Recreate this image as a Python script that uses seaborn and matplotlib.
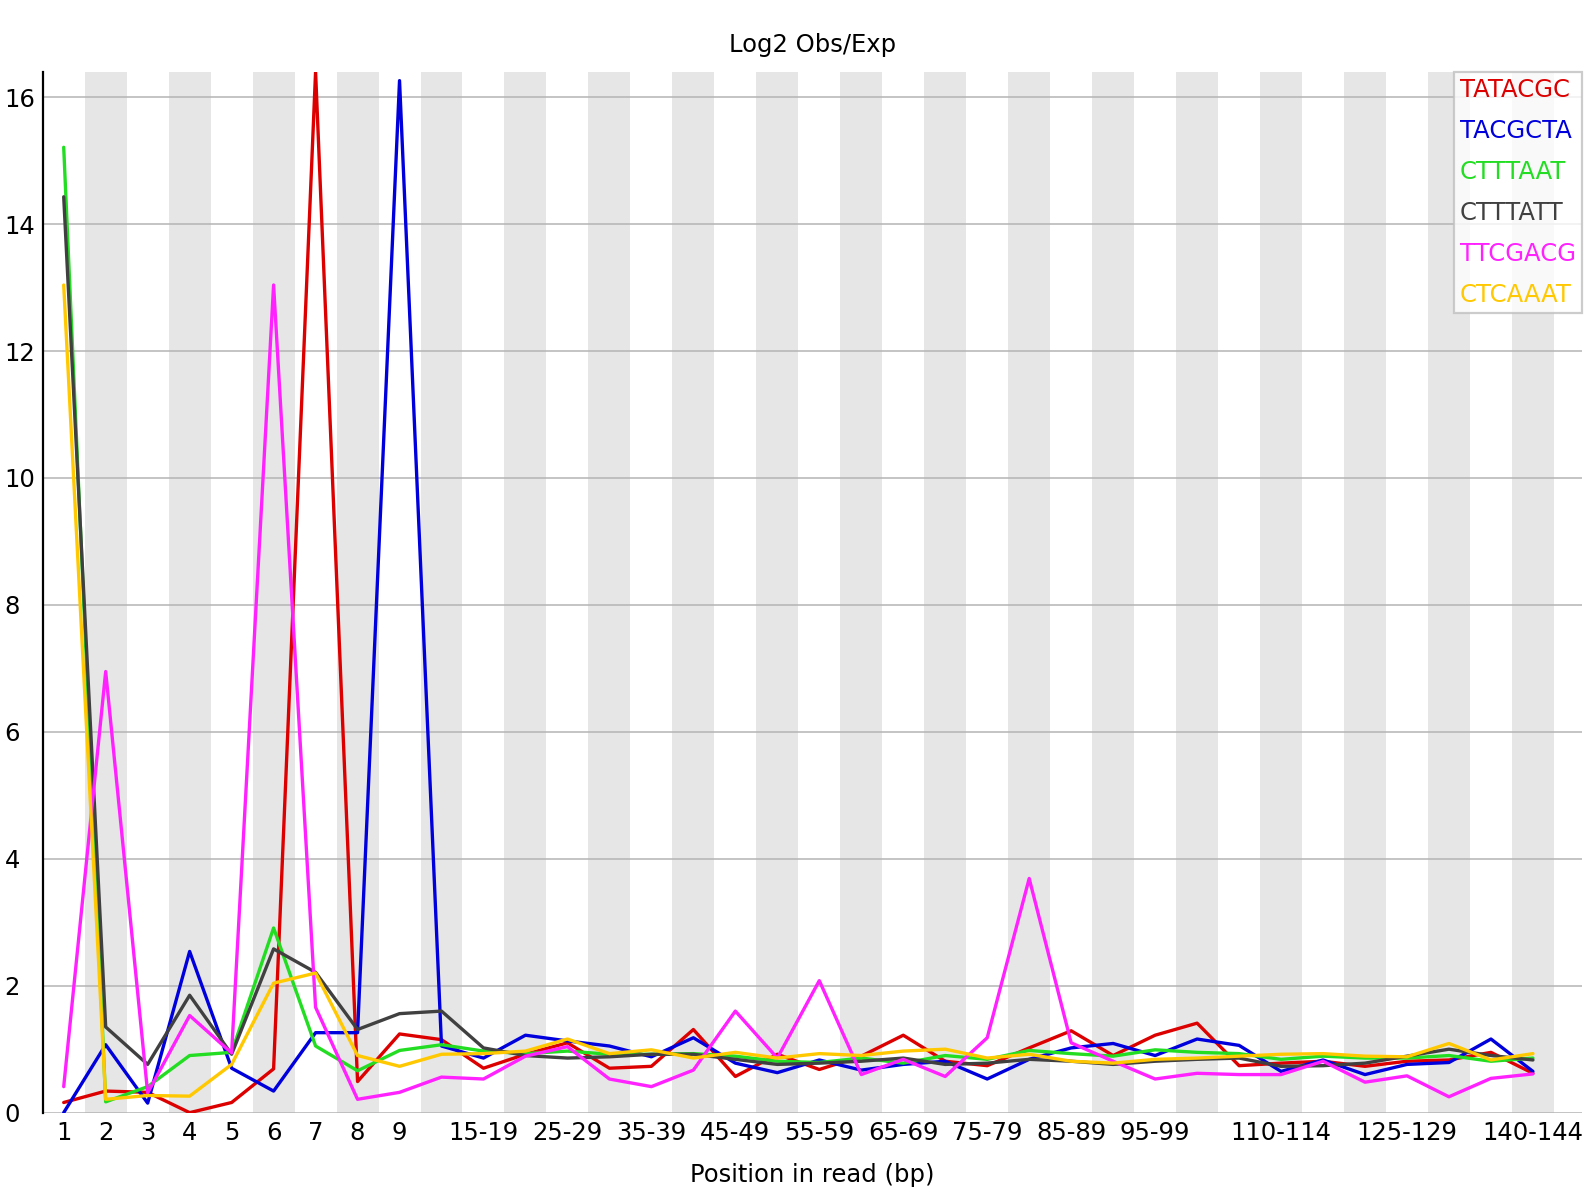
import pandas as pd
import matplotlib
matplotlib.use("Agg")
import matplotlib.pyplot as plt
import seaborn as sns

# Position groups (x categories)
positions = ["1", "2", "3", "4", "5", "6", "7", "8", "9",
             "10-14", "15-19", "20-24", "25-29", "30-34", "35-39", "40-44",
             "45-49", "50-54", "55-59", "60-64", "65-69", "70-74", "75-79",
             "80-84", "85-89", "90-94", "95-99", "100-104", "105-109",
             "110-114", "115-119", "120-124", "125-129", "130-134",
             "135-139", "140-144"]
shown_labels = ["1", "2", "3", "4", "5", "6", "7", "8", "9", "15-19", "25-29",
                "35-39", "45-49", "55-59", "65-69", "75-79", "85-89", "95-99",
                "110-114", "125-129", "140-144"]

kmers = ["TATACGC", "TACGCTA", "CTTTAAT", "CTTTATT", "TTCGACG", "CTCAAAT"]
colors = ["#dc0000", "#0000dc", "#22dd22", "#404040", "#ff22ff", "#ffc800"]

tatacgc = [0.16, 0.34, 0.32, 0.0, 0.16, 0.69, 16.4, 0.49, 1.24, 1.15,
           0.70, 0.92, 1.10, 0.70, 0.73, 1.31, 0.57, 0.92, 0.68, 0.89,
           1.22, 0.81, 0.74, 1.02, 1.29, 0.90, 1.22, 1.41, 0.74, 0.78,
           0.81, 0.73, 0.81, 0.83, 0.95, 0.62]
tacgcta = [0.0, 1.07, 0.15, 2.54, 0.70, 0.34, 1.26, 1.26, 16.26, 1.05,
           0.86, 1.22, 1.13, 1.05, 0.88, 1.18, 0.78, 0.63, 0.83, 0.67,
           0.76, 0.81, 0.53, 0.84, 1.02, 1.09, 0.90, 1.16, 1.06, 0.65,
           0.83, 0.60, 0.76, 0.79, 1.16, 0.65]
ctttaat = [15.21, 0.17, 0.41, 0.90, 0.95, 2.91, 1.05, 0.66, 0.98, 1.07,
           0.97, 0.93, 0.97, 0.92, 0.92, 0.93, 0.89, 0.81, 0.79, 0.86,
           0.78, 0.90, 0.84, 0.98, 0.93, 0.89, 0.99, 0.95, 0.93, 0.84,
           0.89, 0.86, 0.86, 0.90, 0.81, 0.86]
ctttatt = [14.43, 1.35, 0.76, 1.85, 0.92, 2.58, 2.21, 1.31, 1.56, 1.60,
           1.02, 0.90, 0.86, 0.88, 0.92, 0.92, 0.84, 0.76, 0.78, 0.81,
           0.86, 0.76, 0.78, 0.84, 0.81, 0.76, 0.81, 0.84, 0.86, 0.73,
           0.74, 0.78, 0.89, 1.00, 0.90, 0.83]
ttcgacg = [0.41, 6.95, 0.31, 1.53, 0.94, 13.04, 1.66, 0.21, 0.32, 0.56,
           0.53, 0.89, 1.04, 0.53, 0.41, 0.67, 1.60, 0.86, 2.08, 0.60,
           0.84, 0.57, 1.18, 3.69, 1.10, 0.81, 0.53, 0.62, 0.60, 0.60,
           0.81, 0.48, 0.58, 0.25, 0.54, 0.61]
ctcaaat = [13.04, 0.21, 0.27, 0.26, 0.76, 2.04, 2.20, 0.90, 0.73, 0.92,
           0.93, 0.97, 1.16, 0.93, 0.99, 0.86, 0.95, 0.86, 0.93, 0.90,
           0.97, 1.00, 0.86, 0.92, 0.81, 0.78, 0.84, 0.86, 0.89, 0.92,
           0.93, 0.89, 0.88, 1.09, 0.83, 0.93]

series = [tatacgc, tacgcta, ctttaat, ctttatt, ttcgacg, ctcaaat]
rows = []
for kmer, vals in zip(kmers, series):
    for i, v in enumerate(vals):
        rows.append({"pos": i, "kmer": kmer, "value": v})
df = pd.DataFrame(rows)

sns.set_style("white")
plt.rcParams["font.family"] = ["DejaVu Sans"]
plt.rcParams["text.color"] = "black"
plt.rcParams["xtick.color"] = "black"
plt.rcParams["ytick.color"] = "black"
plt.rcParams["axes.labelcolor"] = "black"
FS = 17.5

fig = plt.figure(figsize=(15.94, 11.90), dpi=100)
ax = fig.add_axes([0.0268, 0.065, 0.9657, 0.8747])

# alternating stripes behind the data
for i in range(1, len(positions), 2):
    ax.axvspan(i - 0.5, i + 0.5, color="#e6e6e6", lw=0, zorder=0)
for y in range(0, 17, 2):
    ax.axhline(y, color="#b4b4b4", lw=1.1, zorder=1)

sns.lineplot(data=df, x="pos", y="value", hue="kmer", hue_order=kmers,
             palette=colors, linewidth=2.4, ax=ax, zorder=3, legend=False)

ax.set_xlim(-0.5, 36.17)
ax.set_ylim(0, max(tatacgc))
ax.set_xticks([positions.index(l) for l in shown_labels])
ax.set_xticklabels(shown_labels, fontsize=FS)
ax.set_yticks(range(0, 17, 2))
ax.set_yticklabels([str(y) for y in range(0, 17, 2)], fontsize=FS)
for lab in ax.get_yticklabels():
    lab.set_ha("left")
ax.tick_params(axis="y", length=0, pad=27.5)
ax.tick_params(axis="x", length=0, pad=6)

for side in ["top", "right", "bottom"]:
    ax.spines[side].set_visible(False)
ax.spines["left"].set_color("black")
ax.spines["left"].set_linewidth(1.6)
ax.spines["left"].set_zorder(4)

ax.set_title("Log2 Obs/Exp", fontsize=FS, pad=14)
ax.set_xlabel("Position in read (bp)", fontsize=FS, labelpad=13)
ax.set_ylabel("")

handles = [plt.Line2D([], [], color=c, lw=0) for c in colors]
leg = ax.legend(handles, kmers, loc="upper right", bbox_to_anchor=(1.0, 0.9995),
                fontsize=FS, handlelength=0, handletextpad=0, frameon=True,
                fancybox=False, labelspacing=0.7, borderpad=0.25,
                borderaxespad=0)
leg.get_frame().set_edgecolor("#c0c0c0")
leg.get_frame().set_linewidth(1.6)
for txt, c in zip(leg.get_texts(), colors):
    txt.set_color(c)
leg.set_zorder(5)

fig.savefig("out.png", dpi=100)
